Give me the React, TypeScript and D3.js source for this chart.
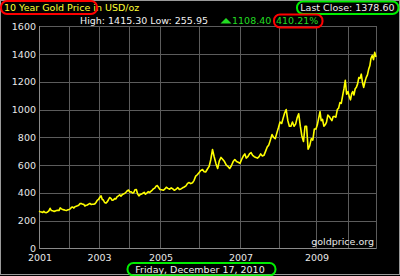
import React from "react";
import * as d3 from "d3";

// Semi-monthly gold prices (USD/oz): [1st, 16th] of each month
const prices2001 = [268, 264, 262, 258, 266, 258, 257, 262, 270, 288, 272, 270, 266, 268, 273, 274, 272, 291, 284, 279, 277, 274, 273, 277];
const prices2002 = [280, 284, 296, 298, 290, 300, 303, 306, 310, 322, 323, 318, 318, 305, 310, 312, 318, 323, 316, 318, 318, 320, 330, 345];
const prices2003 = [352, 366, 378, 352, 348, 330, 326, 334, 348, 366, 360, 346, 348, 358, 356, 372, 378, 386, 376, 386, 392, 396, 404, 414];
const prices2004 = [420, 406, 408, 398, 400, 422, 424, 392, 378, 388, 392, 396, 404, 390, 398, 408, 402, 410, 418, 428, 434, 448, 452, 438];
const prices2005 = [424, 422, 418, 428, 440, 432, 426, 436, 428, 418, 426, 438, 424, 428, 436, 442, 450, 468, 474, 466, 472, 490, 520, 530];
const prices2006 = [545, 560, 568, 552, 550, 570, 590, 640, 712, 660, 610, 575, 630, 655, 640, 625, 600, 590, 575, 595, 625, 640, 625, 620];
const prices2007 = [612, 640, 665, 680, 650, 660, 680, 690, 670, 660, 655, 650, 660, 680, 665, 670, 700, 730, 745, 780, 820, 800, 790, 830];
const prices2008 = [870, 910, 900, 940, 975, 1000, 920, 880, 880, 910, 880, 895, 940, 970, 880, 810, 770, 880, 880, 715, 740, 790, 780, 860];
const prices2009 = [860, 890, 940, 985, 920, 930, 880, 890, 910, 960, 950, 935, 920, 950, 950, 945, 1000, 1010, 1050, 1045, 1100, 1150, 1210, 1110];
const prices2010 = [1130, 1095, 1070, 1115, 1130, 1105, 1150, 1160, 1185, 1230, 1225, 1255, 1195, 1160, 1200, 1230, 1250, 1290, 1315, 1370, 1390, 1360, 1412, 1378.6];

const years = [2001, 2002, 2003, 2004, 2005, 2006, 2007, 2008, 2009, 2010];
const pricesByYear = [prices2001, prices2002, prices2003, prices2004, prices2005, prices2006, prices2007, prices2008, prices2009, prices2010];

const yTicks = [0, 200, 400, 600, 800, 1000, 1200, 1400, 1600];
const xLabelYears = [2001, 2003, 2005, 2007, 2009];

const title = "10 Year Gold Price";
const unitText = " in USD/oz";
const lastCloseText = "Last Close: 1378.60";
const highLowText = "High: 1415.30 Low: 255.95";
const changeText = "1108.40";
const pctText = "410.21%";
const dateText = "Friday, December 17, 2010";
const sourceText = "goldprice.org";

export default function App() {
  const endDate = new Date(2010, 11, 17);
  const gridDates = [...years.map((y) => new Date(y, 0, 1)), endDate];
  // chart's x axis is piecewise per year
  const x = d3
    .scaleTime()
    .domain(gridDates)
    .range([39, 69, 98.5, 128.5, 160, 199, 240, 278.5, 316, 348, 376])
    .clamp(true);
  const y = d3.scaleLinear().domain([0, 1600]).range([248.3, 26.3]);

  const data: { d: Date; v: number }[] = [];
  years.forEach((yr, i) => {
    pricesByYear[i].forEach((v, j) => {
      const m = Math.floor(j / 2);
      const day = j % 2 === 0 ? 1 : 16;
      let d = new Date(yr, m, day);
      if (yr === 2010 && j === 23) d = endDate;
      data.push({ d, v });
    });
  });

  const line = d3
    .line<{ d: Date; v: number }>()
    .x((p) => x(p.d))
    .y((p) => y(p.v))
    .curve(d3.curveLinear);

  const font = "'DejaVu Sans', Verdana, sans-serif";
  const fs = 9.5;
  const gridColor = "#5c5c5c";
  const axisColor = "#8a8a8a";

  return (
    <svg
      width={400}
      height={276}
      style={{ position: "absolute", left: 0, top: 0, display: "block" }}
      fontFamily={font}
      fontSize={fs}
    >
      <rect x={0} y={0} width={400} height={276} fill="#000" />
      <rect x={0.5} y={0.5} width={399} height={274} fill="none" stroke="#9a9a9a" strokeWidth={1} />

      {/* horizontal grid */}
      {yTicks.map((t) => (
        <line key={"h" + t} x1={39} x2={376} y1={Math.round(y(t)) + 0.5} y2={Math.round(y(t)) + 0.5} stroke={gridColor} strokeWidth={1} />
      ))}
      {/* vertical grid */}
      {gridDates.map((d, i) => (
        <line key={"v" + i} x1={Math.round(x(d)) + 0.5} x2={Math.round(x(d)) + 0.5} y1={26} y2={249} stroke={gridColor} strokeWidth={1} />
      ))}
      {/* axes */}
      <line x1={39.5} x2={39.5} y1={26} y2={249} stroke={axisColor} />
      <line x1={39} x2={376} y1={248.5} y2={248.5} stroke={axisColor} />

      {/* y labels */}
      {yTicks.map((t) => (
        <text key={"yl" + t} x={36} y={y(t) + 3.5} textAnchor="end" fill="#e8e8e8">
          {t}
        </text>
      ))}
      {/* x labels */}
      {xLabelYears.map((yr) => (
        <text key={"xl" + yr} x={x(new Date(yr, 0, 1)) + 1} y={260.5} textAnchor="middle" fill="#e8e8e8">
          {yr}
        </text>
      ))}

      {/* price line */}
      <path d={line(data) || ""} fill="none" stroke="#ffff00" strokeWidth={1.6} strokeLinejoin="round" />

      <text x={374} y={245} textAnchor="end" fill="#e8e8e8">
        {sourceText}
      </text>

      {/* header */}
      <text x={4} y={10.7} fill="#ffff33">
        {title}
        <tspan>{unitText}</tspan>
      </text>
      <rect x={1} y={1} width={96} height={13} rx={6} fill="none" stroke="#ff0000" strokeWidth={2} />

      <text x={394.5} y={10.7} textAnchor="end" fill="#f0f0f0">
        {lastCloseText}
      </text>
      <rect x={297} y={1.5} width={101.5} height={12.5} rx={6} fill="none" stroke="#00ee00" strokeWidth={2} />

      <text x={80} y={24} fill="#f0f0f0">
        {highLowText}
      </text>
      <path d="M220.5,23.5 L226,18 L231.5,23.5 Z" fill="#22dd22" />
      <text x={232} y={24} fill="#22dd22">
        {changeText}
      </text>
      <text x={276} y={24} fill="#22dd22">
        {pctText}
      </text>
      <rect x={274} y={14.5} width={48.5} height={13} rx={6} fill="none" stroke="#ff0000" strokeWidth={2} />

      {/* footer date */}
      <text x={200} y={272.5} textAnchor="middle" fill="#f0f0f0">
        {dateText}
      </text>
      <rect x={127.5} y={263} width={148} height={12.5} rx={6} fill="none" stroke="#00ee00" strokeWidth={2} />
    </svg>
  );
}
